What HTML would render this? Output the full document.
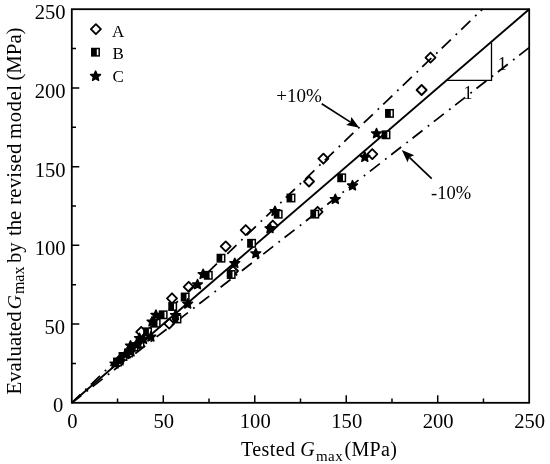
<!DOCTYPE html>
<html><head><meta charset="utf-8"><title>Gmax plot</title>
<style>html,body{margin:0;padding:0;background:#fff}body{width:550px;height:464px;overflow:hidden}svg{display:block}text{font-family:"Liberation Serif","Times New Roman",serif;fill:#000}</style>
</head><body>
<svg width="550" height="464" viewBox="0 0 550 464">
<rect x="0" y="0" width="550" height="464" fill="#fff"/>
<rect x="71.8" y="9.2" width="457.40" height="393.60" fill="none" stroke="#000" stroke-width="1.8"/>
<path d="M117.54 402.8V398.60M71.8 363.44H76.00M163.28 402.8V395.30M71.8 324.08H79.30M209.02 402.8V398.60M71.8 284.72H76.00M254.76 402.8V395.30M71.8 245.36H79.30M300.50 402.8V398.60M71.8 206.00H76.00M346.24 402.8V395.30M71.8 166.64H79.30M391.98 402.8V398.60M71.8 127.28H76.00M437.72 402.8V395.30M71.8 87.92H79.30M483.46 402.8V398.60M71.8 48.56H76.00" stroke="#000" stroke-width="1.5" fill="none"/>
<text x="72.30" y="427.8" font-size="20.6" text-anchor="middle">0</text>
<text x="63.2" y="412.20" font-size="20.6" text-anchor="end">0</text>
<text x="163.78" y="427.8" font-size="20.6" text-anchor="middle">50</text>
<text x="65.0" y="334.08" font-size="20.6" text-anchor="end">50</text>
<text x="255.26" y="427.8" font-size="20.6" text-anchor="middle">100</text>
<text x="65.6" y="255.36" font-size="20.6" text-anchor="end">100</text>
<text x="346.74" y="427.8" font-size="20.6" text-anchor="middle">150</text>
<text x="65.6" y="176.64" font-size="20.6" text-anchor="end">150</text>
<text x="438.22" y="427.8" font-size="20.6" text-anchor="middle">200</text>
<text x="65.6" y="97.92" font-size="20.6" text-anchor="end">200</text>
<text x="529.70" y="427.8" font-size="20.6" text-anchor="middle">250</text>
<text x="65.6" y="19.20" font-size="20.6" text-anchor="end">250</text>
<line x1="71.8" y1="402.8" x2="529.2" y2="9.2" stroke="#000" stroke-width="1.9"/>
<line x1="71.8" y1="402.8" x2="482.5" y2="9.2" stroke="#000" stroke-width="1.75" stroke-dasharray="12.6 6.7 1.8 5.9" stroke-dashoffset="0.6"/>
<line x1="71.8" y1="402.8" x2="529.2" y2="47.6" stroke="#000" stroke-width="1.75" stroke-dasharray="12.6 6.7 1.8 5.9" stroke-dashoffset="0.6"/>
<path d="M446.9 80.3H491.5V42.5" fill="none" stroke="#000" stroke-width="1.3"/>
<text x="468" y="99" font-size="18" text-anchor="middle">1</text>
<text x="502.3" y="69.5" font-size="18" text-anchor="middle">1</text>
<text x="276.2" y="101.7" font-size="19">+10%</text>
<text x="431" y="198.8" font-size="18.5">-10%</text>
<line x1="321.7" y1="103.8" x2="350.45" y2="122.15" stroke="#000" stroke-width="1.7"/>
<polygon points="359.30,127.80 346.18,125.12 350.45,122.15 351.35,117.03" fill="#000"/>
<line x1="431.7" y1="178.6" x2="409.40" y2="157.34" stroke="#000" stroke-width="1.7"/>
<polygon points="401.80,150.10 414.16,155.25 409.40,157.34 407.54,162.20" fill="#000"/>
<polygon points="430.5,52.6 435.5,57.6 430.5,62.6 425.5,57.6" fill="none" stroke="#000" stroke-width="1.85" stroke-linejoin="round"/>
<polygon points="421.6,85.0 426.6,90.0 421.6,95.0 416.6,90.0" fill="none" stroke="#000" stroke-width="1.85" stroke-linejoin="round"/>
<polygon points="372.3,149.1 377.3,154.1 372.3,159.1 367.3,154.1" fill="none" stroke="#000" stroke-width="1.85" stroke-linejoin="round"/>
<polygon points="323.4,153.7 328.4,158.7 323.4,163.7 318.4,158.7" fill="none" stroke="#000" stroke-width="1.85" stroke-linejoin="round"/>
<polygon points="309.0,176.5 314.0,181.5 309.0,186.5 304.0,181.5" fill="none" stroke="#000" stroke-width="1.85" stroke-linejoin="round"/>
<polygon points="317.6,206.8 322.6,211.8 317.6,216.8 312.6,211.8" fill="none" stroke="#000" stroke-width="1.85" stroke-linejoin="round"/>
<polygon points="272.8,220.6 277.8,225.6 272.8,230.6 267.8,225.6" fill="none" stroke="#000" stroke-width="1.85" stroke-linejoin="round"/>
<polygon points="245.7,225.1 250.7,230.1 245.7,235.1 240.7,230.1" fill="none" stroke="#000" stroke-width="1.85" stroke-linejoin="round"/>
<polygon points="225.7,241.4 230.7,246.4 225.7,251.4 220.7,246.4" fill="none" stroke="#000" stroke-width="1.85" stroke-linejoin="round"/>
<polygon points="188.7,281.8 193.7,286.8 188.7,291.8 183.7,286.8" fill="none" stroke="#000" stroke-width="1.85" stroke-linejoin="round"/>
<polygon points="172.0,293.3 177.0,298.3 172.0,303.3 167.0,298.3" fill="none" stroke="#000" stroke-width="1.85" stroke-linejoin="round"/>
<polygon points="169.2,318.6 174.2,323.6 169.2,328.6 164.2,323.6" fill="none" stroke="#000" stroke-width="1.85" stroke-linejoin="round"/>
<polygon points="141.2,326.8 146.2,331.8 141.2,336.8 136.2,331.8" fill="none" stroke="#000" stroke-width="1.85" stroke-linejoin="round"/>
<polygon points="233.0,266.0 238.0,271.0 233.0,276.0 228.0,271.0" fill="none" stroke="#000" stroke-width="1.85" stroke-linejoin="round"/>
<polygon points="119.0,356.0 124.0,361.0 119.0,366.0 114.0,361.0" fill="none" stroke="#000" stroke-width="1.85" stroke-linejoin="round"/>
<polygon points="132.0,343.0 137.0,348.0 132.0,353.0 127.0,348.0" fill="none" stroke="#000" stroke-width="1.85" stroke-linejoin="round"/>
<rect x="385.8" y="109.7" width="7.4" height="7.4" fill="#fff" stroke="#000" stroke-width="1.5"/><rect x="385.8" y="109.7" width="5.0" height="7.4" fill="#000"/>
<rect x="382.3" y="131.1" width="7.4" height="7.4" fill="#fff" stroke="#000" stroke-width="1.5"/><rect x="382.3" y="131.1" width="5.0" height="7.4" fill="#000"/>
<rect x="338.0" y="174.1" width="7.4" height="7.4" fill="#fff" stroke="#000" stroke-width="1.5"/><rect x="338.0" y="174.1" width="5.0" height="7.4" fill="#000"/>
<rect x="287.3" y="194.3" width="7.4" height="7.4" fill="#fff" stroke="#000" stroke-width="1.5"/><rect x="287.3" y="194.3" width="5.0" height="7.4" fill="#000"/>
<rect x="311.1" y="210.4" width="7.4" height="7.4" fill="#fff" stroke="#000" stroke-width="1.5"/><rect x="311.1" y="210.4" width="5.0" height="7.4" fill="#000"/>
<rect x="274.5" y="210.5" width="7.4" height="7.4" fill="#fff" stroke="#000" stroke-width="1.5"/><rect x="274.5" y="210.5" width="5.0" height="7.4" fill="#000"/>
<rect x="247.9" y="239.6" width="7.4" height="7.4" fill="#fff" stroke="#000" stroke-width="1.5"/><rect x="247.9" y="239.6" width="5.0" height="7.4" fill="#000"/>
<rect x="217.3" y="254.5" width="7.4" height="7.4" fill="#fff" stroke="#000" stroke-width="1.5"/><rect x="217.3" y="254.5" width="5.0" height="7.4" fill="#000"/>
<rect x="204.6" y="271.6" width="7.4" height="7.4" fill="#fff" stroke="#000" stroke-width="1.5"/><rect x="204.6" y="271.6" width="5.0" height="7.4" fill="#000"/>
<rect x="227.5" y="270.8" width="7.4" height="7.4" fill="#fff" stroke="#000" stroke-width="1.5"/><rect x="227.5" y="270.8" width="5.0" height="7.4" fill="#000"/>
<rect x="181.5" y="293.3" width="7.4" height="7.4" fill="#fff" stroke="#000" stroke-width="1.5"/><rect x="181.5" y="293.3" width="5.0" height="7.4" fill="#000"/>
<rect x="169.0" y="302.8" width="7.4" height="7.4" fill="#fff" stroke="#000" stroke-width="1.5"/><rect x="169.0" y="302.8" width="5.0" height="7.4" fill="#000"/>
<rect x="159.5" y="311.1" width="7.4" height="7.4" fill="#fff" stroke="#000" stroke-width="1.5"/><rect x="159.5" y="311.1" width="5.0" height="7.4" fill="#000"/>
<rect x="143.9" y="328.1" width="7.4" height="7.4" fill="#fff" stroke="#000" stroke-width="1.5"/><rect x="143.9" y="328.1" width="5.0" height="7.4" fill="#000"/>
<rect x="152.5" y="319.5" width="7.4" height="7.4" fill="#fff" stroke="#000" stroke-width="1.5"/><rect x="152.5" y="319.5" width="5.0" height="7.4" fill="#000"/>
<rect x="173.3" y="315.3" width="7.4" height="7.4" fill="#fff" stroke="#000" stroke-width="1.5"/><rect x="173.3" y="315.3" width="5.0" height="7.4" fill="#000"/>
<rect x="113.8" y="358.3" width="7.4" height="7.4" fill="#fff" stroke="#000" stroke-width="1.5"/><rect x="113.8" y="358.3" width="5.0" height="7.4" fill="#000"/>
<rect x="119.3" y="352.8" width="7.4" height="7.4" fill="#fff" stroke="#000" stroke-width="1.5"/><rect x="119.3" y="352.8" width="5.0" height="7.4" fill="#000"/>
<rect x="124.8" y="349.3" width="7.4" height="7.4" fill="#fff" stroke="#000" stroke-width="1.5"/><rect x="124.8" y="349.3" width="5.0" height="7.4" fill="#000"/>
<rect x="130.3" y="343.3" width="7.4" height="7.4" fill="#fff" stroke="#000" stroke-width="1.5"/><rect x="130.3" y="343.3" width="5.0" height="7.4" fill="#000"/>
<rect x="136.3" y="339.8" width="7.4" height="7.4" fill="#fff" stroke="#000" stroke-width="1.5"/><rect x="136.3" y="339.8" width="5.0" height="7.4" fill="#000"/>
<polygon points="376.5,128.5 377.9,131.7 381.4,132.0 378.7,134.3 379.5,137.7 376.5,136.0 373.5,137.7 374.3,134.3 371.6,132.0 375.1,131.7" fill="#000" stroke="#000" stroke-width="1.5" stroke-linejoin="round"/>
<polygon points="364.8,152.1 366.2,155.3 369.7,155.6 367.0,157.9 367.8,161.3 364.8,159.6 361.8,161.3 362.6,157.9 359.9,155.6 363.4,155.3" fill="#000" stroke="#000" stroke-width="1.5" stroke-linejoin="round"/>
<polygon points="352.5,180.6 353.9,183.8 357.4,184.1 354.7,186.4 355.5,189.8 352.5,188.1 349.5,189.8 350.3,186.4 347.6,184.1 351.1,183.8" fill="#000" stroke="#000" stroke-width="1.5" stroke-linejoin="round"/>
<polygon points="335.3,194.2 336.7,197.4 340.2,197.7 337.5,200.0 338.3,203.4 335.3,201.7 332.3,203.4 333.1,200.0 330.4,197.7 333.9,197.4" fill="#000" stroke="#000" stroke-width="1.5" stroke-linejoin="round"/>
<polygon points="275.0,206.2 276.4,209.4 279.9,209.7 277.2,212.0 278.0,215.4 275.0,213.7 272.0,215.4 272.8,212.0 270.1,209.7 273.6,209.4" fill="#000" stroke="#000" stroke-width="1.5" stroke-linejoin="round"/>
<polygon points="270.0,223.4 271.4,226.6 274.9,226.9 272.2,229.2 273.0,232.6 270.0,230.8 267.0,232.6 267.8,229.2 265.1,226.9 268.6,226.6" fill="#000" stroke="#000" stroke-width="1.5" stroke-linejoin="round"/>
<polygon points="255.8,248.5 257.2,251.7 260.7,252.0 258.0,254.3 258.8,257.7 255.8,256.0 252.8,257.7 253.6,254.3 250.9,252.0 254.4,251.7" fill="#000" stroke="#000" stroke-width="1.5" stroke-linejoin="round"/>
<polygon points="234.8,258.2 236.2,261.4 239.7,261.7 237.0,264.0 237.8,267.4 234.8,265.7 231.8,267.4 232.6,264.0 229.9,261.7 233.4,261.4" fill="#000" stroke="#000" stroke-width="1.5" stroke-linejoin="round"/>
<polygon points="203.1,269.2 204.5,272.4 208.0,272.7 205.3,275.0 206.1,278.4 203.1,276.7 200.1,278.4 200.9,275.0 198.2,272.7 201.7,272.4" fill="#000" stroke="#000" stroke-width="1.5" stroke-linejoin="round"/>
<polygon points="197.5,279.5 198.9,282.7 202.4,283.0 199.7,285.3 200.5,288.7 197.5,287.0 194.5,288.7 195.3,285.3 192.6,283.0 196.1,282.7" fill="#000" stroke="#000" stroke-width="1.5" stroke-linejoin="round"/>
<polygon points="187.7,298.8 189.1,302.0 192.6,302.3 189.9,304.6 190.7,308.0 187.7,306.3 184.7,308.0 185.5,304.6 182.8,302.3 186.3,302.0" fill="#000" stroke="#000" stroke-width="1.5" stroke-linejoin="round"/>
<polygon points="175.5,310.2 176.9,313.4 180.4,313.7 177.7,316.0 178.5,319.4 175.5,317.7 172.5,319.4 173.3,316.0 170.6,313.7 174.1,313.4" fill="#000" stroke="#000" stroke-width="1.5" stroke-linejoin="round"/>
<polygon points="155.9,310.0 157.3,313.2 160.8,313.5 158.1,315.8 158.9,319.2 155.9,317.5 152.9,319.2 153.7,315.8 151.0,313.5 154.5,313.2" fill="#000" stroke="#000" stroke-width="1.5" stroke-linejoin="round"/>
<polygon points="152.0,316.7 153.4,319.9 156.9,320.2 154.2,322.5 155.0,325.9 152.0,324.2 149.0,325.9 149.8,322.5 147.1,320.2 150.6,319.9" fill="#000" stroke="#000" stroke-width="1.5" stroke-linejoin="round"/>
<polygon points="150.9,331.8 152.3,335.0 155.8,335.3 153.1,337.6 153.9,341.0 150.9,339.3 147.9,341.0 148.7,337.6 146.0,335.3 149.5,335.0" fill="#000" stroke="#000" stroke-width="1.5" stroke-linejoin="round"/>
<polygon points="139.5,333.2 140.9,336.4 144.4,336.7 141.7,339.0 142.5,342.4 139.5,340.7 136.5,342.4 137.3,339.0 134.6,336.7 138.1,336.4" fill="#000" stroke="#000" stroke-width="1.5" stroke-linejoin="round"/>
<polygon points="130.5,340.7 131.9,343.9 135.4,344.2 132.7,346.5 133.5,349.9 130.5,348.2 127.5,349.9 128.3,346.5 125.6,344.2 129.1,343.9" fill="#000" stroke="#000" stroke-width="1.5" stroke-linejoin="round"/>
<polygon points="115.0,358.7 116.4,361.9 119.9,362.2 117.2,364.5 118.0,367.9 115.0,366.2 112.0,367.9 112.8,364.5 110.1,362.2 113.6,361.9" fill="#000" stroke="#000" stroke-width="1.5" stroke-linejoin="round"/>
<polygon points="120.0,355.7 121.4,358.9 124.9,359.2 122.2,361.5 123.0,364.9 120.0,363.2 117.0,364.9 117.8,361.5 115.1,359.2 118.6,358.9" fill="#000" stroke="#000" stroke-width="1.5" stroke-linejoin="round"/>
<polygon points="125.5,349.2 126.9,352.4 130.4,352.7 127.7,355.0 128.5,358.4 125.5,356.7 122.5,358.4 123.3,355.0 120.6,352.7 124.1,352.4" fill="#000" stroke="#000" stroke-width="1.5" stroke-linejoin="round"/>
<polygon points="131.0,346.7 132.4,349.9 135.9,350.2 133.2,352.5 134.0,355.9 131.0,354.2 128.0,355.9 128.8,352.5 126.1,350.2 129.6,349.9" fill="#000" stroke="#000" stroke-width="1.5" stroke-linejoin="round"/>
<polygon points="137.0,339.7 138.4,342.9 141.9,343.2 139.2,345.5 140.0,348.9 137.0,347.2 134.0,348.9 134.8,345.5 132.1,343.2 135.6,342.9" fill="#000" stroke="#000" stroke-width="1.5" stroke-linejoin="round"/>
<polygon points="143.5,334.2 144.9,337.4 148.4,337.7 145.7,340.0 146.5,343.4 143.5,341.7 140.5,343.4 141.3,340.0 138.6,337.7 142.1,337.4" fill="#000" stroke="#000" stroke-width="1.5" stroke-linejoin="round"/>
<polygon points="95.9,24.2 100.9,29.2 95.9,34.2 90.9,29.2" fill="none" stroke="#000" stroke-width="1.85" stroke-linejoin="round"/>
<rect x="91.8" y="48.5" width="7.4" height="7.4" fill="#fff" stroke="#000" stroke-width="1.5"/><rect x="91.8" y="48.5" width="5.0" height="7.4" fill="#000"/>
<polygon points="95.6,71.1 97.0,74.3 100.5,74.6 97.8,76.9 98.6,80.3 95.6,78.5 92.6,80.3 93.4,76.9 90.7,74.6 94.2,74.3" fill="#000" stroke="#000" stroke-width="1.5" stroke-linejoin="round"/>
<text x="112" y="36.7" font-size="17">A</text>
<text x="112.5" y="59.4" font-size="17">B</text>
<text x="112.5" y="82.2" font-size="17">C</text>
<text transform="translate(0 456.3)"><tspan x="241" y="0" font-size="20" letter-spacing="0.4">Tested </tspan><tspan x="300.3" y="0" font-size="20" font-style="italic">G</tspan><tspan x="316" y="4.2" font-size="15" letter-spacing="0.4">max </tspan><tspan x="344.5" y="0" font-size="20" letter-spacing="0.3">(MPa)</tspan></text>
<text transform="translate(20.6 394.6) rotate(-90)"><tspan x="0" y="0" font-size="20.8">Evaluated </tspan><tspan x="85.4" y="0" font-size="19.6" font-style="italic">G</tspan><tspan x="100.5" y="3.3" font-size="16">max </tspan><tspan x="131.5" y="0" font-size="20.8">by </tspan><tspan x="158.5" y="0" font-size="20.8">the </tspan><tspan x="189.8" y="0" font-size="20.8" letter-spacing="0.2">revised </tspan><tspan x="255.6" y="0" font-size="20.8" letter-spacing="0.5">model </tspan><tspan x="314.0" y="0" font-size="20.8">(MPa)</tspan></text>
</svg></body></html>
